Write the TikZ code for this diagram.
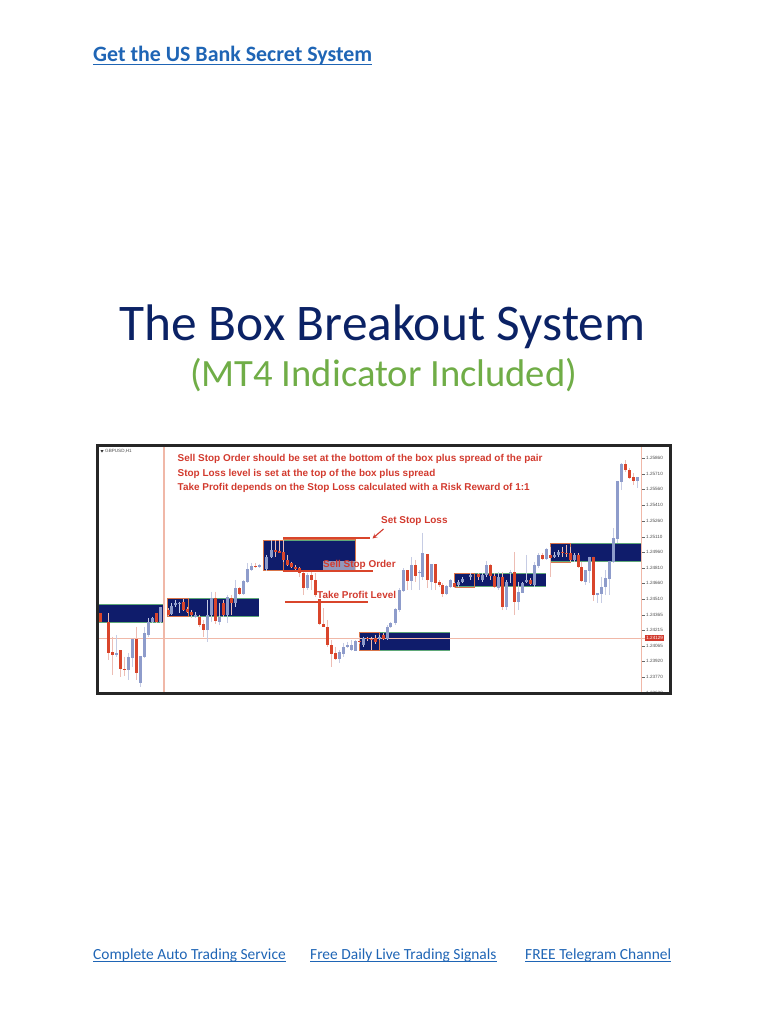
\documentclass[tikz,border=0pt]{standalone}
\usepackage{fontspec}
\setmainfont{Carlito}
\newfontfamily\chartfont{Liberation Sans}
\definecolor{linkblue}{HTML}{1F65B5}
\definecolor{titleblue}{HTML}{0B2265}
\definecolor{subgreen}{HTML}{70AD47}
\definecolor{boxnavy}{HTML}{0F1C6B}
\definecolor{boxgreen}{HTML}{5FA878}
\definecolor{boxorange}{HTML}{D9764A}
\definecolor{noteRed}{HTML}{D23A2E}
\definecolor{candleRed}{HTML}{D9452B}
\definecolor{candleBlue}{HTML}{8E9CCB}
\definecolor{wickRed}{HTML}{EDBDB4}
\definecolor{wickBlue}{HTML}{C6CCE4}
\definecolor{gridsalmon}{HTML}{F0B8A8}
\tikzset{>=stealth,
  pagetext/.style={inner sep=0pt, anchor=base west},
  linktext/.style={pagetext, text=linkblue},
  linkrule/.style={linkblue, line width=1pt},
  notetext/.style={pagetext, text=noteRed, font=\chartfont\bfseries\fontsize{9.95}{11}\selectfont},
  halotext/.style={notetext, fill=white, fill opacity=0.55, text opacity=1},
  axislabel/.style={inner sep=0pt, anchor=west, text=black!70, font=\chartfont\fontsize{4.6}{5}\selectfont},
  tradebox/.style={fill=boxnavy},
  tradeedge/.style={boxgreen, line width=1pt},
  rangebox/.style={draw=boxorange, line width=1pt},
  levelline/.style={draw=candleRed, line width=1.8pt},
  wickline/.style={line width=1pt}}
\begin{document}
\begin{tikzpicture}[x=1pt, y=-1pt]
    \useasboundingbox (0,0) rectangle (768,1024);

    % page texts
    \node[linktext, font=\bfseries\fontsize{21.9}{26}\selectfont] (toplink) at (93,62) {Get the US Bank Secret System};
    \node[pagetext, text=titleblue, font=\fontsize{51.4}{60}\selectfont] (title) at (119.5,340) {The Box Breakout System};
    \node[pagetext, text=subgreen, font=\fontsize{38.6}{46}\selectfont] (subtitle) at (190,386.5) {(MT4 Indicator Included)};
    \node[linktext, font=\fontsize{15.45}{18}\selectfont] (autolink) at (93,959) {Complete Auto Trading Service};
    \node[linktext, font=\fontsize{15.45}{18}\selectfont] (signallink) at (310,959) {Free Daily Live Trading Signals};
    \node[linktext, font=\fontsize{15.45}{18}\selectfont] (telegramlink) at (525,959) {FREE Telegram Channel};
    \foreach \link in {toplink, autolink, signallink, telegramlink}
        \draw[linkrule] ([yshift=-2.4pt]\link.base west) -- ([yshift=-2.4pt]\link.base east);

    % trading boxes
    \foreach \xa/\xb/\ya/\yb in {99/163.3/604/622, 167.7/259/598/616, 263.3/355/540/570,
        359/450.3/632.3/650, 454.3/545.7/573.3/586.7, 550.3/641/543.7/561.3} {
        \fill[tradebox] (\xa,\ya) rectangle (\xb,\yb);
        \draw[tradeedge] (\xa,\ya) -- (\xb,\ya) (\xa,\yb) -- (\xb,\yb);
    }
    \draw[rangebox] (167.7,598) rectangle (188,616);
    \draw[rangebox] (263.3,540) rectangle (283.3,570.5);
    \draw[rangebox] (283.3,539) rectangle (355,571.5);
    \draw[rangebox] (359,632) rectangle (379,650.3);
    \draw[rangebox] (454.3,573) rectangle (474.3,587);
    \draw[rangebox] (550.3,543) rectangle (570.3,562.5);

    % chart rules
    \draw[gridsalmon, line width=1.2pt] (164,447) -- (164,692);
    \draw[gridsalmon, line width=1.5pt] (641.7,447) -- (641.7,692);
    \draw[gridsalmon, line width=0.8pt] (99,638) -- (645,638);

    % candles, left half
    \begin{scope}[shift={(90pt,-440pt)}, x=0.3333pt, y=-0.3333pt]
        \foreach \cx/\wt/\bt/\bb/\wb in {32/520/520/545/545, 55/520/545/638/660, 67/590/636/644/705, 91/630/630/688/710,
            103/650/687/690/708, 139/560/596/700/720, 199/520/520/545/548, 235/505/510/525/528, 282/478/487/510/512,
            294/500/508/515/520, 305/510/515/525/535, 329/525/530/555/560, 341/540/553/570/590, 377/455/475/543/552,
            401/480/490/525/530, 425/465/475/490/525, 449/440/443/462/465, 497/370/378/381/385, 556/300/330/335/350,
            568/300/333/338/340, 580/300/335/360/365, 592/345/360/375/378, 604/365/370/382/385, 616/375/382/388/392,
            628/380/385/400/410, 640/395/398/445/465, 664/395/405/420/450, 676/400/420/465/470, 688/478/478/553/555,
            700/505/553/560/562, 712/540/560/615/620, 724/600/615/642/680, 736/620/640/656/660, 808/590/602/606/612,
            832/590/595/598/604, 844/590/597/600/630, 856/585/595/605/612, 880/580/585/596/600} {
            \draw[wickRed, wickline] (\cx,\wt) -- (\cx,\wb);
            \fill[candleRed] (\cx-4.5,\bt) rectangle (\cx+4.5,\bb);
        }
        \foreach \cx/\wt/\bt/\bb/\wb in {79/585/640/645/650, 115/640/652/690/720, 127/596/596/655/680, 151/648/648/730/742,
            163/560/580/650/655, 175/535/545/585/590, 187/530/535/545/548, 211/500/500/545/548, 245/490/498/523/526,
            258/480/488/495/500, 270/485/488/490/520, 318/515/525/530/535, 352/480/525/570/605, 364/455/475/525/545,
            389/490/530/545/555, 413/465/470/525/550, 437/420/445/490/500, 461/420/423/462/465, 473/370/388/425/430,
            485/368/377/390/392, 509/372/376/380/384, 530/345/352/388/392, 545/300/330/352/355, 652/400/405/445/450,
            748/630/635/656/668, 760/610/620/642/650, 772/605/615/620/625, 784/600/615/630/632, 796/600/602/632/634,
            820/590/595/615/620, 868/585/590/596/600, 892/555/560/596/600} {
            \draw[wickBlue, wickline] (\cx,\wt) -- (\cx,\wb);
            \fill[candleBlue] (\cx-4.5,\bt) rectangle (\cx+4.5,\bb);
        }
    \end{scope}

    % candles, right half
    \begin{scope}[shift={(380pt,-440pt)}, x=0.3333pt, y=-0.3333pt]
        \foreach \cx/\wt/\bt/\bb/\wb in {81/390/390/422/450, 105/360/375/408/425, 141/342/342/420/445, 165/372/372/430/450,
            177/420/425/435/440, 188/430/434/462/470, 224/425/430/440/445, 296/398/403/412/420, 332/372/376/408/420,
            344/400/408/440/445, 368/395/410/500/510, 404/337/395/487/525, 452/415/420/433/436, 487/340/345/357/360,
            511/320/345/355/410, 548/320/335/337/350, 560/315/338/343/350, 571/320/340/360/365, 595/340/345/380/385,
            606/365/380/423/425, 642/350/352/465/482, 738/60/72/90/95, 750/85/90/115/118, 762/100/112/122/135} {
            \draw[wickRed, wickline] (\cx,\wt) -- (\cx,\wb);
            \fill[candleRed] (\cx-4.5,\bt) rectangle (\cx+4.5,\bb);
        }
        \foreach \cx/\wt/\bt/\bb/\wb in {32/545/548/562/565, 45/505/508/550/555, 57/445/450/510/515, 69/385/390/452/455,
            93/352/375/422/450, 117/390/395/400/450, 128/278/338/410/420, 153/372/372/425/450, 200/435/438/462/465,
            212/418/420/440/443, 236/420/425/435/440, 248/412/418/425/430, 272/400/405/410/420, 308/400/405/420/425,
            320/362/375/405/410, 356/395/410/445/450, 380/420/425/500/510, 392/390/395/400/430, 416/425/455/487/510,
            428/425/428/458/460, 440/345/420/425/430, 463/365/375/435/440, 475/340/345/378/385, 499/325/328/358/360,
            523/335/345/352/355, 535/330/335/345/350, 583/340/345/360/365, 618/390/390/425/435, 630/350/352/392/430,
            654/460/460/465/490, 666/410/440/462/490, 678/390/415/442/465, 690/362/362/418/465, 702/265/295/365/370,
            714/122/122/298/310, 726/70/72/125/150, 774/112/112/122/145} {
            \draw[wickBlue, wickline] (\cx,\wt) -- (\cx,\wb);
            \fill[candleBlue] (\cx-4.5,\bt) rectangle (\cx+4.5,\bb);
        }
    \end{scope}

    % notes on the chart
    \node[notetext] (orderNote) at (177.5,461.5) {Sell Stop Order should be set at the bottom of the box plus spread of the pair};
    \node[notetext] (lossNote) at (177.5,476) {Stop Loss level is set at the top of the box plus spread};
    \node[notetext] (profitNote) at (177.5,490.5) {Take Profit depends on the Stop Loss calculated with a Risk Reward of 1:1};

    % levels
    \coordinate (lossStart) at (283.3,538.3);
    \coordinate (lossEnd) at (370,538.3);
    \coordinate (orderStart) at (283.3,571.3);
    \coordinate (orderEnd) at (372.7,571.3);
    \coordinate (profitStart) at (285,601.7);
    \coordinate (profitEnd) at (368,601.7);
    \coordinate (arrowTail) at (383.5,529);
    \coordinate (arrowHead) at (372.5,538.5);
    \draw[levelline] (lossStart) -- (lossEnd);
    \draw[levelline] (orderStart) -- (orderEnd);
    \draw[levelline] (profitStart) -- (profitEnd);
    \draw[->, noteRed, line width=1.1pt] (arrowTail) -- (arrowHead);
    \node[notetext] (lossLabel) at (381,523.5) {Set Stop Loss};
    \node[halotext] (orderLabel) at (323,567.8) {Sell Stop Order};
    \node[notetext] (profitLabel) at (317,598.5) {Take Profit Level};

    % price axis
    \foreach \price/\py in {1.25860/457.7, 1.25710/474, 1.25560/489.3, 1.25410/505, 1.25260/521, 1.25110/536.7,
        1.24960/552.3, 1.24810/567.7, 1.24660/583, 1.24510/599, 1.24365/615, 1.24215/630, 1.24065/645.7,
        1.23920/661, 1.23770/677.3, 1.23620/692.7} {
        \draw[black!60, line width=0.4pt] (642,\py) -- (645,\py);
        \node[axislabel] at (646,\py) {\price};
    }
    \node[axislabel, fill=noteRed, text=white, minimum height=6pt, minimum width=19pt, inner sep=0.3pt] (priceTag) at (645,638) {1.24129};

    % symbol label and frame
    \node[axislabel, anchor=west] (symbol) at (105,451.5) {GBPUSD,H1};
    \fill[black!80] (100.5,450.2) -- (103.5,450.2) -- (102,452.6) -- cycle;
    \draw[black!85, line width=3pt] (97,445.5) rectangle (670.5,693.8);
\end{tikzpicture}
\end{document}
